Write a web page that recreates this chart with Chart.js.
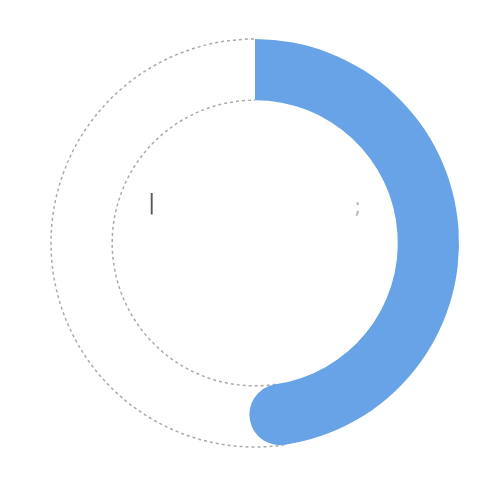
<!DOCTYPE html><html><head><script src="https://cdn.jsdelivr.net/npm/chart.js@4"></script>
<style>html,body{margin:0;background:#fff}#w{width:498px;height:490px}</style></head><body><div id="w"><canvas id="c"></canvas></div>
<script>
const labels=["Value","Remaining"];
const values=[47.7,52.3];
const deco={id:'deco',beforeDatasetsDraw(ch){const a=ch.getDatasetMeta(0).data[0];const x=ch.ctx;x.save();x.setLineDash([3,3]);x.strokeStyle='#aaa';x.lineWidth=1.5;[a.outerRadius,a.innerRadius].forEach(r=>{x.beginPath();x.arc(a.x,a.y,r,a.endAngle,a.startAngle+2*Math.PI);x.stroke();});x.restore();
x.save();x.fillStyle='#555';x.font='22px "DejaVu Sans"';x.fillText('|',148,209);x.fillStyle='#bbb';x.fillText(';',354,214);x.restore();},
afterDatasetsDraw(ch){const a=ch.getDatasetMeta(0).data[0];const x=ch.ctx;const r=(a.outerRadius+a.innerRadius)/2,w=(a.outerRadius-a.innerRadius)/2;x.save();x.fillStyle='#67a3e6';x.beginPath();x.arc(a.x+r*Math.cos(a.endAngle),a.y+r*Math.sin(a.endAngle),w,0,2*Math.PI);x.fill();x.restore();}};
new Chart(document.getElementById('c'),{type:'doughnut',data:{labels,datasets:[{data:values,backgroundColor:['#67a3e6','rgba(0,0,0,0)'],borderWidth:0}]},
options:{responsive:true,maintainAspectRatio:false,animation:false,cutout:'70%',layout:{padding:{left:51,right:39,top:39,bottom:43}},plugins:{legend:{display:false},tooltip:{enabled:false}}},plugins:[deco]});
</script></body></html>
